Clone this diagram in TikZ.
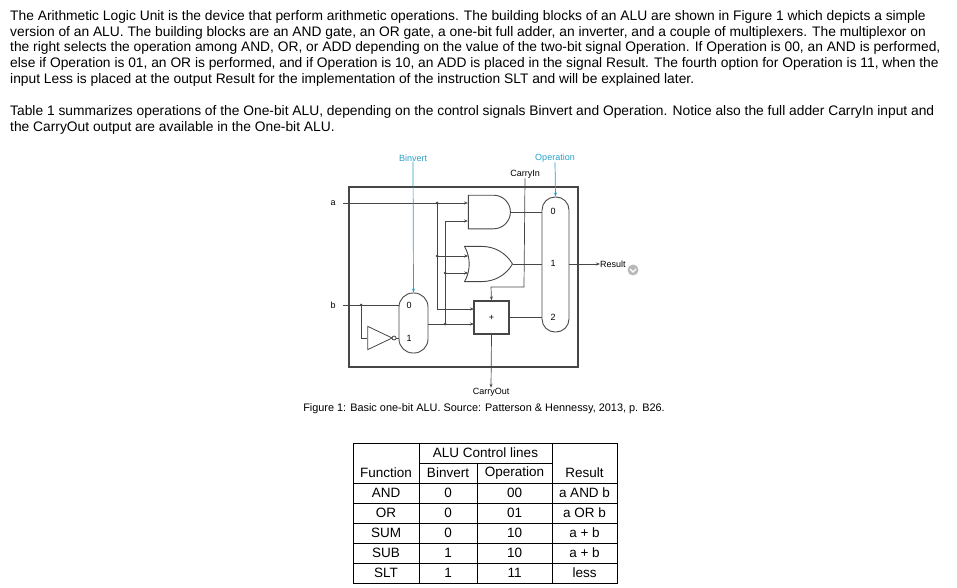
\documentclass[tikz,border=0pt]{standalone}
\usepackage{fontspec}
\setmainfont{Liberation Sans}
\usetikzlibrary{shapes.gates.logic.US,arrows.meta}
\definecolor{cblue}{RGB}{40,160,200}
\definecolor{wire}{RGB}{70,70,70}
\begin{document}
\begin{tikzpicture}[x=1pt,y=-1pt,
  para/.style={anchor=west,inner sep=0pt,font=\fontsize{13.8}{15}\selectfont},
  lbl/.style={inner sep=0pt,font=\fontsize{9}{10}\selectfont},
  w/.style={draw=wire,line width=0.7pt},
  arr/.style={w,-{Stealth[length=4pt,width=3pt]}},
  dot/.style={circle,fill=wire,inner sep=0pt,minimum size=3pt},
  cell/.style={inner sep=0pt,font=\fontsize{13.5}{15}\selectfont}]
\useasboundingbox (0,0) rectangle (957,588);
\node[para] (p1) at (10,17) {The Arithmetic Logic Unit is the device that perform arithmetic operations. The building blocks of an ALU are shown in Figure 1 which depicts a simple};
\node[para] (p2) at (10,33) {version of an ALU. The building blocks are an AND gate, an OR gate, a one-bit full adder, an inverter, and a couple of multiplexers. The multiplexor on};
\node[para] (p3) at (10,48) {the right selects the operation among AND, OR, or ADD depending on the value of the two-bit signal Operation. If Operation is 00, an AND is performed,};
\node[para] (p4) at (10,64) {else if Operation is 01, an OR is performed, and if Operation is 10, an ADD is placed in the signal Result. The fourth option for Operation is 11, when the};
\node[para] (p5) at (10,80) {input Less is placed at the output Result for the implementation of the instruction SLT and will be explained later.};
\node[para] (p6) at (10,112) {Table 1 summarizes operations of the One-bit ALU, depending on the control signals Binvert and Operation. Notice also the full adder CarryIn input and};
\node[para] (p7) at (10,128) {the CarryOut output are available in the One-bit ALU.};

% outer box
\draw[draw=wire,line width=1.2pt] (349,187) rectangle (578,367);
% gates
\node[and gate US,draw=wire,line width=0.9pt,minimum width=42pt,minimum height=33pt,inner sep=0pt] (and) at (488,212) {};
\node[or gate US,draw=wire,line width=0.9pt,minimum width=48pt,minimum height=33pt,inner sep=0pt] (or) at (485,264) {};
\node[draw=wire,line width=1.3pt,minimum width=35pt,minimum height=33pt,inner sep=0pt,font=\fontsize{9}{10}\selectfont] (add) at (491.5,317.5) {+};
\node[draw=wire,line width=0.9pt,rounded corners=13pt,minimum width=27pt,minimum height=135pt] (mux) at (555.5,264.5) {};
\node[draw=wire,line width=0.9pt,rounded corners=14pt,minimum width=29pt,minimum height=60pt] (smux) at (413.5,323) {};
\node[lbl] (m0) at (553,211) {0};
\node[lbl] (m1) at (553,263) {1};
\node[lbl] (m2) at (553,317) {2};
\node[lbl] (s0) at (409,305) {0};
\node[lbl] (s1) at (409,338) {1};
\node[not gate US,draw=wire,line width=0.8pt,minimum width=19pt,minimum height=20pt,inner sep=0pt] (inv) at (376,338) {};
% labels
\node[lbl] (la) at (333,203) {a};
\node[lbl] (lb) at (333,305) {b};
\node[lbl,text=cblue] (bin) at (413,158) {Binvert};
\node[lbl,text=cblue] (op) at (555,158) {Operation};
\node[lbl] (cin) at (525,174) {CarryIn};
\node[lbl] (cout) at (491,392) {CarryOut};
\node[lbl,anchor=west] (res) at (600,264) {Result};
\node[lbl,font=\fontsize{10.9}{12}\selectfont] (cap) at (484,409) {Figure 1: Basic one-bit ALU. Source: Patterson \& Hennessy, 2013, p. B26.};
\node[circle,fill=gray!55,minimum size=11pt,inner sep=0pt] (chev) at (633,270) {};
\draw[white,line width=1.2pt] (630,269) -- (633,272) -- (636,269);
% coordinates
\coordinate (ja) at (437,203);
\coordinate (jo1) at (437,256);
\coordinate (jb) at (445,273);
\coordinate (jbo) at (445,324);
\coordinate (jbin) at (361,305);
\coordinate (ja2) at (445,221);
% wires
\draw[arr] (343,203) -- (and.west |- ja);
\draw[w] (ja) -- (437,309);
\draw[arr] (437,309) -- (474,309);
\draw[arr] (jo1) -- (or.input 1 |- jo1);
\draw[arr] (ja2) -- (and.west |- ja2);
\draw[w] (ja2) -- (jbo);
\draw[arr] (jb) -- (or.input 2 |- jb);
\draw[arr] (smux.east |- jbo) -- (474,324);
\draw[w] (343,305) -- (399,305);
\draw[w] (jbin) -- (361,338) -- (inv.input);
\draw[w] (inv.output) -- (399,338);
\draw[w] (and.output) -- (mux.west |- and.output);
\draw[w] (or.output) -- (mux.west |- or.output);
\draw[w] (add.east) -- (mux.west |- add.east);
\draw[arr] (mux.east |- res) -- (res.west);
\draw[arr,cblue] (bin.south) -- (smux.north);
\draw[arr,cblue] (op.south) -- (mux.north);
\draw[arr] (cin.south) -- (524,287) -- (491,287) -- (add.north);
\draw[arr] (add.south) -- (cout.north);
\foreach \p in {ja,jo1,jb,jbo,jbin} \node[dot] at (\p) {};
% table
\draw[line width=0.8pt] (353,443) rectangle (617,583);
\draw[line width=0.8pt] (419,443) -- (419,583);
\draw[line width=0.8pt] (552,443) -- (552,583);
\draw[line width=0.8pt] (477,463) -- (477,583);
\draw[line width=0.8pt] (419,463) -- (552,463);
\foreach \y in {483,503,523,543,563} \draw[line width=0.8pt] (353,\y) -- (617,\y);
\node[cell] (h0) at (485.5,453) {ALU Control lines};
\node[cell] (h1) at (386,473) {Function};
\node[cell] (h2) at (448,473) {Binvert};
\node[cell] (h3) at (514.5,473) {Operation};
\node[cell] (h4) at (584.5,473) {Result};
\foreach \f/\b/\o/\r [count=\i] in {AND/0/00/a AND b,OR/0/01/a OR b,SUM/0/10/a + b,SUB/1/10/a + b,SLT/1/11/less}{
  \node[cell] at (386,473+20*\i) {\f};
  \node[cell] at (448,473+20*\i) {\b};
  \node[cell] at (514.5,473+20*\i) {\o};
  \node[cell] at (584.5,473+20*\i) {\r};
}
\end{tikzpicture}
\end{document}
